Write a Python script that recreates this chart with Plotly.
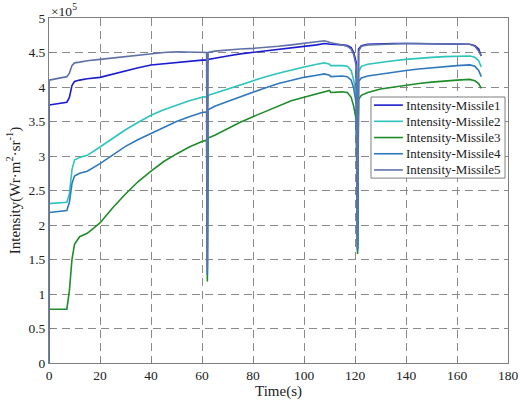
import plotly.graph_objects as go

# time axis (s) shared by all series
t = [0, 0.05, 7, 8, 9, 10, 12, 15, 20, 25, 30, 35, 40, 45, 50, 55, 60,
     61.8, 62.1, 62.4, 65, 70, 75, 80, 85, 90, 95, 100, 105, 108,
     110, 110.5, 115, 117, 118.5, 119.5, 120.5, 121.0, 121.4,
     122.5, 125, 130, 135, 140, 145, 150, 155, 160, 165, 167, 168.5, 169.5]

# intensity values in units of 1e5
missile1 = [0, 3.74, 3.78, 3.85, 4.02, 4.08, 4.10, 4.12, 4.14, 4.19, 4.24, 4.28, 4.32, 4.34, 4.36, 4.38, 4.39,
            4.39, 4.33, 4.40, 4.42, 4.45, 4.48, 4.50, 4.53, 4.55, 4.57, 4.59, 4.61, 4.63,
            4.62, 4.62, 4.61, 4.60, 4.57, 4.50, 4.35, 1.65, 4.55,
            4.60, 4.62, 4.63, 4.63, 4.63, 4.63, 4.63, 4.63, 4.63, 4.62, 4.60, 4.55, 4.45]
missile2 = [0, 2.31, 2.33, 2.45, 2.80, 2.94, 2.98, 3.01, 3.13, 3.26, 3.38, 3.49, 3.59, 3.67, 3.74, 3.80, 3.85,
            3.86, 3.72, 3.88, 3.91, 3.97, 4.03, 4.10, 4.15, 4.20, 4.25, 4.29, 4.33, 4.35,
            4.33, 4.31, 4.31, 4.30, 4.24, 4.10, 3.85, 1.70, 4.22,
            4.30, 4.33, 4.36, 4.38, 4.40, 4.42, 4.43, 4.44, 4.45, 4.45, 4.43, 4.38, 4.29]
missile3 = [0, 0.78, 0.78, 1.05, 1.50, 1.72, 1.83, 1.88, 2.03, 2.25, 2.45, 2.63, 2.78, 2.92, 3.03, 3.13, 3.21,
            3.23, 1.18, 3.26, 3.30, 3.40, 3.49, 3.57, 3.65, 3.73, 3.80, 3.85, 3.90, 3.93,
            3.95, 3.92, 3.93, 3.92, 3.85, 3.72, 3.52, 1.58, 3.82,
            3.88, 3.92, 3.97, 4.00, 4.03, 4.05, 4.07, 4.09, 4.10, 4.11, 4.09, 4.05, 3.98]
missile4 = [0, 2.18, 2.21, 2.33, 2.60, 2.71, 2.75, 2.78, 2.89, 3.02, 3.14, 3.24, 3.33, 3.42, 3.50, 3.57, 3.63,
            3.64, 1.28, 3.67, 3.72, 3.79, 3.86, 3.93, 3.99, 4.05, 4.10, 4.14, 4.17, 4.19,
            4.17, 4.15, 4.16, 4.15, 4.10, 3.98, 3.75, 1.62, 4.08,
            4.13, 4.16, 4.19, 4.22, 4.24, 4.26, 4.28, 4.30, 4.31, 4.32, 4.30, 4.24, 4.15]
missile5 = [0, 4.10, 4.15, 4.20, 4.31, 4.35, 4.36, 4.38, 4.40, 4.42, 4.45, 4.47, 4.49, 4.50, 4.51, 4.51, 4.51,
            4.50, 1.35, 4.50, 4.52, 4.54, 4.55, 4.56, 4.57, 4.59, 4.61, 4.63, 4.66, 4.67,
            4.65, 4.64, 4.61, 4.59, 4.55, 4.47, 4.30, 1.66, 4.52,
            4.59, 4.61, 4.62, 4.63, 4.63, 4.63, 4.63, 4.63, 4.63, 4.62, 4.59, 4.52, 4.45]

names = ["Intensity-Missile1", "Intensity-Missile2", "Intensity-Missile3",
         "Intensity-Missile4", "Intensity-Missile5"]
series = [missile1, missile2, missile3, missile4, missile5]
colors = ["#1c1ccf", "#2cc4bc", "#1e8c2a", "#2f78bd", "#5f72a8"]

font = "Liberation Serif"
txt = "#222222"

fig = go.Figure()
for name, vals, c in zip(names, series, colors):
    fig.add_trace(go.Scatter(x=t, y=vals, mode="lines", name=name,
                             line=dict(color=c, width=1.6), showlegend=False))

axis_style = dict(showline=True, linecolor="#7f7f7f", linewidth=1, mirror=True,
                  showgrid=True, gridcolor="#8a8a8a", griddash="8px,5px", gridwidth=1,
                  zeroline=False, ticks="inside", ticklen=4, tickcolor="#7f7f7f",
                  automargin=False,
                  tickfont=dict(family=font, size=13.5, color=txt))

fig.update_xaxes(range=[0, 180], dtick=20, tick0=0,
                 title=dict(text="Time(s)", font=dict(family=font, size=15, color=txt), standoff=2),
                 **axis_style)
fig.update_yaxes(range=[0, 5], dtick=0.5, tick0=0,
                 title=dict(text="Intensity(Wr·m<sup>2</sup>·sr<sup>-1</sup>)",
                            font=dict(family=font, size=15, color=txt), standoff=4),
                 **axis_style)

fig.add_annotation(text="×10<sup>5</sup>", xref="paper", yref="paper", x=0, y=1,
                   xanchor="left", yanchor="bottom", yshift=-3, showarrow=False,
                   font=dict(family=font, size=13.5, color=txt))

# legend box drawn by hand (plotly's own legend rows are too tall)
lx0, lx1, ly0, ly1 = 0.7015, 0.9935, 0.536, 0.771
fig.add_shape(type="rect", xref="paper", yref="paper", x0=lx0, x1=lx1, y0=ly0, y1=ly1,
              line=dict(color="#7f7f7f", width=1), fillcolor="white", layer="above")
row_h = (ly1 - ly0) / 5
for i, (name, c) in enumerate(zip(names, colors)):
    yy = ly1 - row_h * (i + 0.5)
    fig.add_shape(type="line", xref="paper", yref="paper", x0=0.708, x1=0.771, y0=yy, y1=yy,
                  line=dict(color=c, width=1.6), layer="above")
    fig.add_annotation(text=name, xref="paper", yref="paper", x=0.774, y=yy,
                       xanchor="left", yanchor="middle", showarrow=False,
                       font=dict(family=font, size=13, color=txt))

fig.update_layout(width=520, height=400,
                  margin=dict(l=49, r=12, t=18, b=37),
                  plot_bgcolor="white", paper_bgcolor="white",
                  showlegend=False)

# page body has a default 8px margin; drop it so the figure sits at the window corner
fig.write_html("out.html", config={"displayModeBar": False},
               post_script="document.body.style.margin='0';")
